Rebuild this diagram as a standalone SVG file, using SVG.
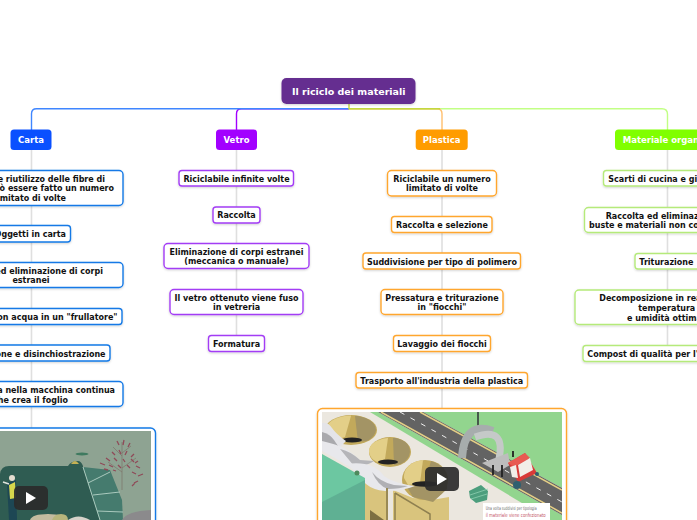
<svg xmlns="http://www.w3.org/2000/svg" width="697" height="520" viewBox="0 0 697 520">
<style>
text{font-family:"DejaVu Sans",sans-serif;font-weight:700;font-size:8px;fill:#111;text-anchor:middle}
.e{text-anchor:end}.s{text-anchor:start}
.t{fill:#fff;font-size:8.500px}
.r{fill:#fff;font-size:9.500px}
.n{fill:#fff;stroke-width:1.400;filter:url(#sh)}
.b{stroke:#1479e6}.p{stroke:#a33cf5}.o{stroke:#ffa62e}.g{stroke:#b5ea7a}
.c{fill:none;stroke-width:1.400}
.spine{fill:none;stroke:#dfdfdf;stroke-width:1.600}
</style>
<defs>
<filter id="sh" x="-10%" y="-20%" width="120%" height="150%"><feDropShadow dx="0" dy="1" stdDeviation="1" flood-color="#000" flood-opacity=".18"/></filter>
<clipPath id="c1"><rect x="-10" y="431" width="161" height="89"/></clipPath>
<clipPath id="c2"><rect x="322" y="412" width="240" height="108"/></clipPath>
<g id="play"><rect x="-17" y="-12" width="34" height="24" rx="5" fill="#2b2b2b" fill-opacity=".92"/><path d="M-5-6 5 0-5 6Z" fill="#fff"/></g>
</defs>
<g id="connectors">
<path class="spine" d="M31.500 150V428M236.500 150V336M442 150V409M667.500 150V346"/>
<path class="c" stroke="#c2ff85" d="M349 108.700H662q5.500 0 5.500 5.500V130"/>
<path class="c" stroke="#ffbf6e" d="M349 108.700H437q5 0 5 5V130"/>
<path class="c" stroke="#a200ff" d="M349 108.700H241.500q-5 0-5 5V130"/>
<path class="c" stroke="#3f86ff" d="M349 108.700H36.500q-5 0-5 5V130"/>
<path class="c" stroke="#c3d83f" d="M349 104V108.700H440"/>
</g>
<g id="root"><rect x="281.500" y="78" width="134" height="26" rx="5" fill="#652d90" filter="url(#sh)"/><text class="r" x="348.700" y="94.500">Il riciclo dei materiali</text></g>
<g id="carta"><rect x="10.500" y="129.500" width="41" height="20.500" rx="3.500" fill="#0a50ff"/><text class="t" x="31" y="143">Carta</text></g>
<g id="vetro"><rect x="216" y="129.500" width="41" height="20.500" rx="3.500" fill="#a200ff"/><text class="t" x="236.500" y="143">Vetro</text></g>
<g id="plastica"><rect x="415.700" y="129.500" width="52" height="20.500" rx="3.500" fill="#ff9c00"/><text class="t" x="441.700" y="143">Plastica</text></g>
<g id="organico"><rect x="615" y="129.500" width="106" height="20.500" rx="3.500" fill="#80ff00"/><text class="t s" x="622.700" y="143">Materiale organ</text></g>

<g id="c1n"><rect class="n b" x="-60" y="170.500" width="183" height="35" rx="4"/><text class="e" x="105" y="181.500">e riutilizzo delle fibre di</text><text class="e" x="114" y="191">ò essere fatto un numero</text><text class="e" x="66" y="201">imitato di volte</text></g>
<g id="c2n"><rect class="n b" x="-8" y="225.500" width="78.500" height="16.500" rx="3"/><text class="e" x="66" y="237">Oggetti in carta</text></g>
<g id="c3n"><rect class="n b" x="-60" y="262.500" width="183" height="25" rx="4"/><text class="e" x="103" y="274">ed eliminazione di corpi</text><text x="31" y="283">estranei</text></g>
<g id="c4n"><rect class="n b" x="-60" y="308.500" width="182" height="16" rx="3"/><text class="e" x="117.500" y="320">on acqua in un "frullatore"</text></g>
<g id="c5n"><rect class="n b" x="-48" y="345" width="158" height="16" rx="3"/><text class="e" x="105.500" y="356.500">one e disinchiostrazione</text></g>
<g id="c6n"><rect class="n b" x="-60" y="381.500" width="183" height="25" rx="4"/><text class="e" x="115" y="393">a nella macchina continua</text><text class="e" x="68" y="402.500">he crea il foglio</text></g>
<g id="c7n"><rect class="n b" x="-94" y="428" width="249.500" height="110" rx="5"/>
<g clip-path="url(#c1)"><rect x="-10" y="431" width="161" height="89" fill="#8ea392"/>
<path d="M0 520V474q1-8 9-8H68q3-5 10-5 3 0 5 5l0 1 17 53Z" fill="#2f5c52"/>
<path d="M83 467 110 470 122 500 123 520H100Z" fill="#457b6e"/>
<path d="M88 483 110 472M93 495 120 492M97 511 123 512M83 467 100 520" stroke="#a9c9bd" stroke-width="1" fill="none"/>
<ellipse cx="82" cy="454" rx="6.500" ry="1.500" fill="#3f7a60"/><path d="M71 464q4-6 8 0Z" fill="#c4b155"/>
<path d="M122 490V442M122 472 108 462M122 468 136 458M122 456 113 447M122 453 131 446" stroke="#7d7468" stroke-width=".7" fill="none"/>
<path d="M117 441l2 4M124 440l-1 5M130 443l-2 4M112 452l3 3M119 450l2 4M127 451l-2 4M134 454l-3 3M106 458l4 3M114 458l3 3M123 459l2 3M131 459l3 3M138 461l-3 2M100 463l5 2M109 465l4 2M118 465l3 3M127 465l3 3M136 466l4 2M143 474l-5 2M104 469l4 1M113 470l3 1M132 472l4 2M138 481l-4 2M132 486l3-3" stroke="#8f4a58" stroke-width="1.300" fill="none"/>
<path d="M7 483 16 480 17 520H9Z" fill="#1d4754"/><path d="M9 485 15 482 16 498 10 499Z" fill="#d6d64c"/><circle cx="12" cy="478" r="3" fill="#e5ddd0"/><path d="M3 482 9 484" stroke="#dfe4dc" stroke-width="1.500"/>
<path d="M30 520q2-6 18-6t19 6Z" fill="#c3bb9f"/><path d="M52 520q2-6 9-6t7 6Z" fill="#b7b57c"/><path d="M68 520q10-7 22 0Z" fill="#d6d2c9"/>
<path d="M122 520q5-9 29-10v10Z" fill="#8b8a8c"/>
</g><use href="#play" x="31" y="498"/></g>

<g id="v1n"><rect class="n p" x="179" y="170.500" width="114.500" height="15.500" rx="3"/><text x="236.500" y="181.500">Riciclabile infinite volte</text></g>
<g id="v2n"><rect class="n p" x="213" y="207" width="47" height="16" rx="3"/><text x="236.500" y="218">Raccolta</text></g>
<g id="v3n"><rect class="n p" x="164" y="243.500" width="145" height="25" rx="4"/><text x="236.500" y="255">Eliminazione di corpi estranei</text><text x="236.500" y="264">(meccanica o manuale)</text></g>
<g id="v4n"><rect class="n p" x="170" y="289.500" width="133" height="25" rx="4"/><text x="236.500" y="301">Il vetro ottenuto viene fuso</text><text x="236.500" y="310">in vetreria</text></g>
<g id="v5n"><rect class="n p" x="208.500" y="335.500" width="56" height="16" rx="3"/><text x="236.500" y="346.500">Formatura</text></g>

<g id="p1n"><rect class="n o" x="387.500" y="170.500" width="109" height="25.500" rx="4"/><text x="442" y="181.500">Riciclabile un numero</text><text x="442" y="191">limitato di volte</text></g>
<g id="p2n"><rect class="n o" x="391.500" y="216.500" width="100.500" height="16" rx="3"/><text x="442" y="228">Raccolta e selezione</text></g>
<g id="p3n"><rect class="n o" x="363" y="253" width="157.500" height="16" rx="3"/><text x="442" y="264.500">Suddivisione per tipo di polimero</text></g>
<g id="p4n"><rect class="n o" x="381" y="289.500" width="122" height="25" rx="4"/><text x="442" y="301">Pressatura e triturazione</text><text x="442" y="310">in "fiocchi"</text></g>
<g id="p5n"><rect class="n o" x="393.500" y="335.500" width="97" height="16" rx="3"/><text x="442" y="346.500">Lavaggio dei fiocchi</text></g>
<g id="p6n"><rect class="n o" x="356" y="372.500" width="171.500" height="15.500" rx="3"/><text x="441.700" y="383.500">Trasporto all'industria della plastica</text></g>
<g id="p7n"><rect class="n o" x="317.500" y="408.500" width="249" height="130" rx="5"/>
<g clip-path="url(#c2)"><rect x="322" y="412" width="240" height="108" fill="#ebe7df"/>
<path d="M423 412H562V488Z" fill="#92d58e"/>
<path d="M370 412H378L562 515V527Z" fill="#92d58e"/>
<path d="M378 412H423L562 488V515Z" fill="#636363"/>
<path d="M381 412 562 513M420 412 562 490" stroke="#e5cf86" stroke-width="1.500" fill="none"/>
<path d="M400 412 562 502" stroke="#eee" stroke-width="1" stroke-dasharray="5 7" fill="none"/>
<ellipse cx="351" cy="430" rx="26" ry="15" fill="#c2a95b"/><path d="M351 415.500C333 416 326 424 326 430q1 7 9 10l10-3 6-21Z" fill="#e3cf88"/><path d="M358 416q17 3 18 14-1 7-9 11l-9 1-3-26Z" fill="#a39465"/><ellipse cx="352" cy="440" rx="10" ry="2.500" fill="#222"/>
<ellipse cx="390" cy="452" rx="21" ry="15" fill="#c2a95b"/><path d="M388 438c-12 1-20 7-19 14q1 7 8 10l8-3 3-21Z" fill="#e3cf88"/><path d="M396 438q14 3 14 14-1 8-9 12l-7 1-1-27Z" fill="#a39465"/><ellipse cx="388" cy="462" rx="10" ry="2.500" fill="#222"/>
<path d="M365 483 372 486 387 488V520H365Z" fill="#d9c47d"/><path d="M393 490 413 498 432 500 449 497V520H393Z" fill="#d9c47d"/>
<ellipse cx="425" cy="480" rx="23" ry="20" fill="#c2a95b"/><path d="M423 460c-12 1-20 9-19 18l4 7 12-2 3-23Z" fill="#e3cf88"/><path d="M431 461q15 4 16 18v10l-14 13-20-5-6-10 17-2Z" fill="#a39465"/><ellipse cx="425" cy="484" rx="13" ry="2.800" fill="#222"/>
<path d="M322 423q6-1 10 5t14 13q-6 6-6 8-8-2-18-9Z" fill="#e4e4e8"/>
<path d="M322 432q8 2 12 8t6 9q-9 0-18-4Z" fill="#a9a9ad"/>
<path d="M322 441q14 3 24 8 6 4 14 11l6 2q-12 4-20 3-12-8-24-14Z" fill="#e8e8ec"/>
<path d="M340 449q10 2 20 11l14 1q-8 6-20 5Z" fill="#b5b5b9"/>
<path d="M346 464q16-2 26 2 8 4 12 10 8 6 24 9l7 1q-12 5-30 5-12-1-19-7-7-10-20-20Z" fill="#e8e8ec"/>
<path d="M372 472q8 10 22 13l14 1q-8 3-20 3-10-3-16-17Z" fill="#b0b0b4"/>
<path d="M322 454 365 478V520H322Z" fill="#6cc7a1"/><path d="M322 502 365 480V520H322Z" fill="#5fb093"/><circle cx="357" cy="473" r="2.500" fill="#4e8a5c"/>
<path d="M395 493 430 514V520M395 493V520" fill="none" stroke="#8f8050" stroke-width="1.500"/><path d="M387 488V520" stroke="#9a8a55" stroke-width="2"/><path d="M370 510 384 520H370Z" fill="#7d6f42"/>
<path d="M478 412V431" stroke="#3f4b45" stroke-width="1.800"/>
<path d="M493 431Q464 421 462 458" fill="none" stroke="#a7adad" stroke-width="8"/>
<path d="M475 437Q506 426 499 459" fill="none" stroke="#c5c9c8" stroke-width="7"/>
<path d="M482 463 508 453 510 465 498 472Z" fill="#bdbdbd"/><path d="M493 465V475M502 465V477M513 451V457" stroke="#222" stroke-width="1.800"/>
<path d="M508 463 525 453 537 473 518 482Z" fill="#d93a38"/><path d="M508 463 525 453 530 458 514 467Z" fill="#e85a52"/><path d="M510 467 516 465 518 478 512 477Z" fill="#f2eee8"/><path d="M518 465 530 458 533 470 520 477Z" fill="#f2eee8"/><circle cx="517" cy="485" r="4" fill="#2f5f6f"/><circle cx="537" cy="474" r="2" fill="#2f5f6f"/>
<path d="M469 491 481 485 488 491 487 500 476 503 470 498Z" fill="#4c9e7d"/><path d="M470 495 488 489M471 499 487 494" stroke="#8fd0b3" stroke-width=".8" fill="none"/>
<rect x="483" y="503" width="67" height="17" fill="#fff"/>
<text class="s" x="485.700" y="509.500" textLength="51" lengthAdjust="spacingAndGlyphs" style="font-size:5px;font-weight:400;fill:#666">Una volta suddivisi per tipologia</text>
<text class="s" x="485.700" y="516.500" textLength="60" lengthAdjust="spacingAndGlyphs" style="font-size:5.500px;font-weight:400;fill:#c5586a">il materiale viene confezionato</text>
</g><use href="#play" x="442" y="479"/></g>

<g id="m1n"><rect class="n g" x="603.500" y="170.500" width="130" height="15.500" rx="3"/><text class="s" x="608.300" y="181.500">Scarti di cucina e gi</text></g>
<g id="m2n"><rect class="n g" x="584.500" y="207.500" width="166" height="25" rx="4"/><text class="s" x="605.700" y="218.500">Raccolta ed eliminaz</text><text class="s" x="589" y="228">buste e materiali non co</text></g>
<g id="m3n"><rect class="n g" x="635" y="253.500" width="66" height="15.500" rx="3"/><text class="s" x="639.300" y="264.500">Triturazione</text></g>
<g id="m4n"><rect class="n g" x="575" y="290" width="186" height="34.500" rx="4"/><text class="s" x="599.300" y="301">Decomposizione in rea</text><text class="s" x="638.300" y="310.500">temperatura</text><text class="s" x="627" y="320.500">e umidità ottima</text></g>
<g id="m5n"><rect class="n g" x="583" y="345.500" width="170" height="16" rx="3"/><text class="s" x="587.300" y="356.500">Compost di qualità per l'</text></g>
</svg>
